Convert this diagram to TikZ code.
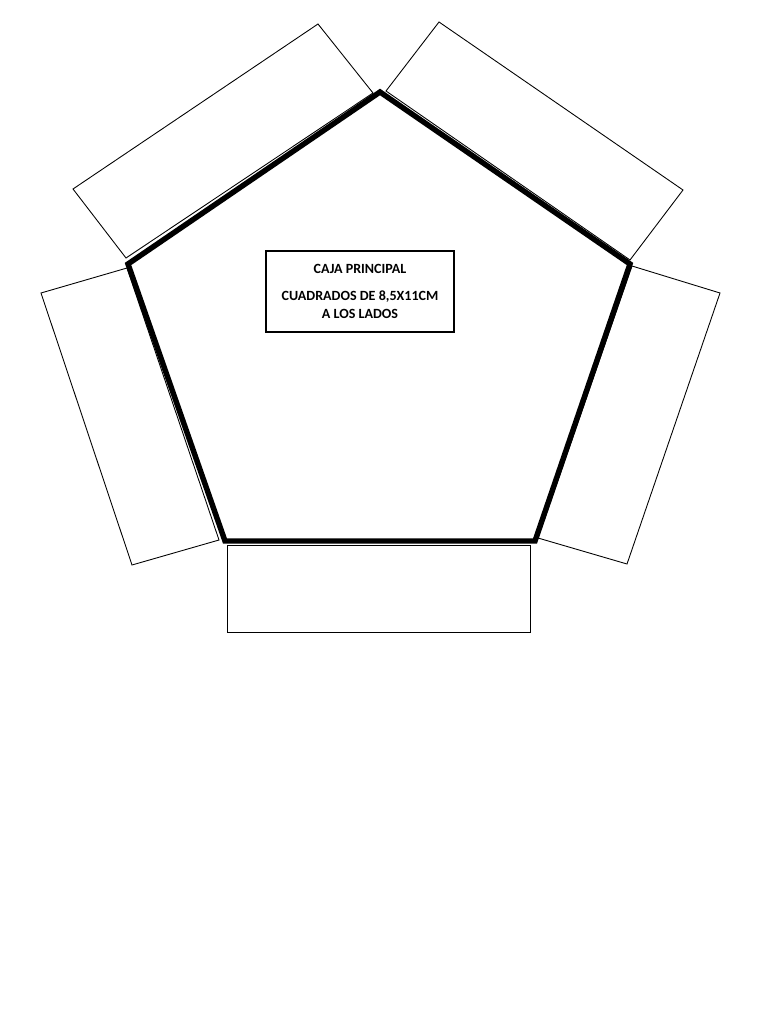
\documentclass[tikz,border=0pt]{standalone}
\usepackage{fontspec}
\setmainfont{Carlito}
\tikzset{sidestyle/.style = {draw = black, line width = 0.5pt},
	basestyle/.style = {draw = black, line width = 3.1pt, line join = miter},
	labelstyle/.style = {rectangle, draw = black, line width = 0.6pt, minimum width = 3.76cm, minimum height = 1.62cm, align = center, font = \bfseries\fontsize{8}{10.3}\selectfont}}

\begin{document}
\begin{tikzpicture}[x = 0.02cm, y = -0.02cm]

 \useasboundingbox (0,0) rectangle (768,1024);

 \coordinate (top) at (380,92);
 \coordinate (right) at (630,264);
 \coordinate (botright) at (535,541);
 \coordinate (botleft) at (225,541);
 \coordinate (left) at (128,264);

 \draw [sidestyle] (126,258) -- (373,93) -- (318,24) -- (73,189) -- cycle;
 \draw [sidestyle] (386,91) -- (439,22) -- (683,190) -- (630,260) -- cycle;
 \draw [sidestyle] (127,268) -- (41,293) -- (132,565) -- (219,540) -- cycle;
 \draw [sidestyle] (632,266) -- (720,293) -- (627,564) -- (538,538) -- cycle;
 \draw [sidestyle] (227,545) rectangle (530,632);

 \draw [basestyle] (top) -- (right) -- (botright) -- (botleft) -- (left) -- cycle;

 \node (caja) at (360,291.5) [labelstyle] {CAJA PRINCIPAL\\[5.5pt] CUADRADOS DE 8,5X11CM\\ A LOS LADOS};

\end{tikzpicture}
\end{document}
